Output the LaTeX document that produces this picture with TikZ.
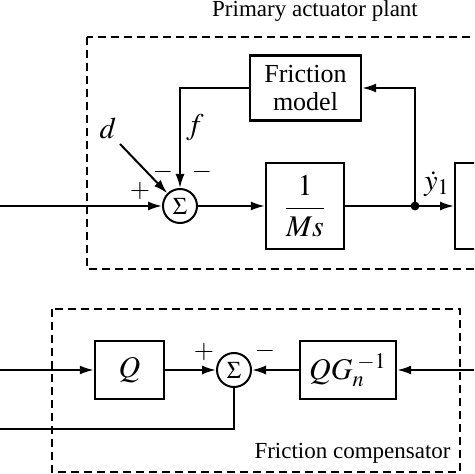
\documentclass[tikz,border=0pt]{standalone}
\usepackage{amsmath}
\usepackage{mathptmx}
\usepackage[no-math]{fontspec}
\setmainfont{Liberation Serif}
\usetikzlibrary{positioning,calc,arrows.meta}

\begin{document}
\begin{tikzpicture}[
    x=0.5pt, y=-0.5pt,
    block/.style={rectangle, draw, line width=1.2pt, inner sep=0pt, align=center,
                  font=\rmfamily\fontsize{13}{14}\selectfont},
    sumnode/.style={circle, draw, line width=1pt, minimum size=17pt, inner sep=0pt,
                    font=\fontsize{12}{12}\selectfont},
    arrow/.style={-{Latex[length=7pt,width=4.5pt]}, line width=1pt},
    wire/.style={line width=1pt},
    frame/.style={line width=0.6pt, dash pattern=on 4pt off 2.5pt},
    sign/.style={font=\fontsize{13}{13}\selectfont, inner sep=0pt},
    caption/.style={font=\rmfamily\fontsize{11.5}{13}\selectfont, inner sep=0pt}
]
\useasboundingbox (0,0) rectangle (474,474);
\clip (0,0) rectangle (474,474);

% Frames
\draw[frame] (87,37) rectangle (495,269);
\draw[frame] (52,309) rectangle (460,472);
\node[caption] (ptitle) at (315,11) {Primary actuator plant};
\node[caption, anchor=east] (ctitle) at (451,453) {Friction compensator};

% Primary actuator plant
\node[sumnode] (sum1) at (180,206) {$\Sigma$};
\node[block, minimum width=39pt, minimum height=43pt, font=\fontsize{15}{16}\selectfont] (ms) at (305,206) {$\dfrac{1}{Ms}$};
\node[block, minimum width=55.5pt, minimum height=32.5pt] (fm) at (305.5,88) {Friction\\model};
\node[block, minimum width=30pt, minimum height=43pt, anchor=west] (plant) at (454,206) {};
\coordinate (in1) at (0,206);
\coordinate (tap) at (415,206);
\coordinate (dstart) at (120,144);

\draw[arrow] (in1) -- (sum1);
\draw[arrow] (sum1) -- (ms);
\draw[wire] (ms) -- (tap);
\draw[arrow] (tap) -- (plant);
\draw[arrow] (tap) |- (fm.east);
\draw[arrow] (fm.west) -| (sum1.north);
\draw[arrow] (dstart) -- (sum1.north west);
\fill (tap) circle (2.2pt);

\node[sign] (p1) at (140,191) {$+$};
\node[sign] (m1) at (163,172) {$-$};
\node[sign] (m2) at (202,172) {$-$};
\node[sign, font=\fontsize{15}{15}\selectfont] (dlab) at (108,128) {$d$};
\node[sign, font=\fontsize{15}{15}\selectfont] (flab) at (195,128) {$f$};
\node[sign, font=\fontsize{15}{15}\selectfont, anchor=west] (ylab) at (424,184) {$\dot{y}_1$};

% Friction compensator
\node[block, minimum width=34.5pt, minimum height=29pt, font=\fontsize{15}{16}\selectfont] (q) at (129.5,370) {$Q$};
\node[sumnode] (sum2) at (234,370) {$\Sigma$};
\node[block, minimum width=48pt, minimum height=29pt, font=\fontsize{15}{16}\selectfont] (qg) at (348,370) {$QG_n^{\;-1}$};
\coordinate (in2) at (0,370);
\coordinate (in3) at (474,370);
\coordinate (out2) at (0,429);

\draw[arrow] (in2) -- (q);
\draw[arrow] (q) -- (sum2);
\draw[arrow] (qg) -- (sum2);
\draw[arrow] (in3) -- (qg);
\draw[wire] (sum2.south) |- (out2);

\node[sign] (p2) at (204,352) {$+$};
\node[sign] (m3) at (265,351) {$-$};

\end{tikzpicture}
\end{document}
